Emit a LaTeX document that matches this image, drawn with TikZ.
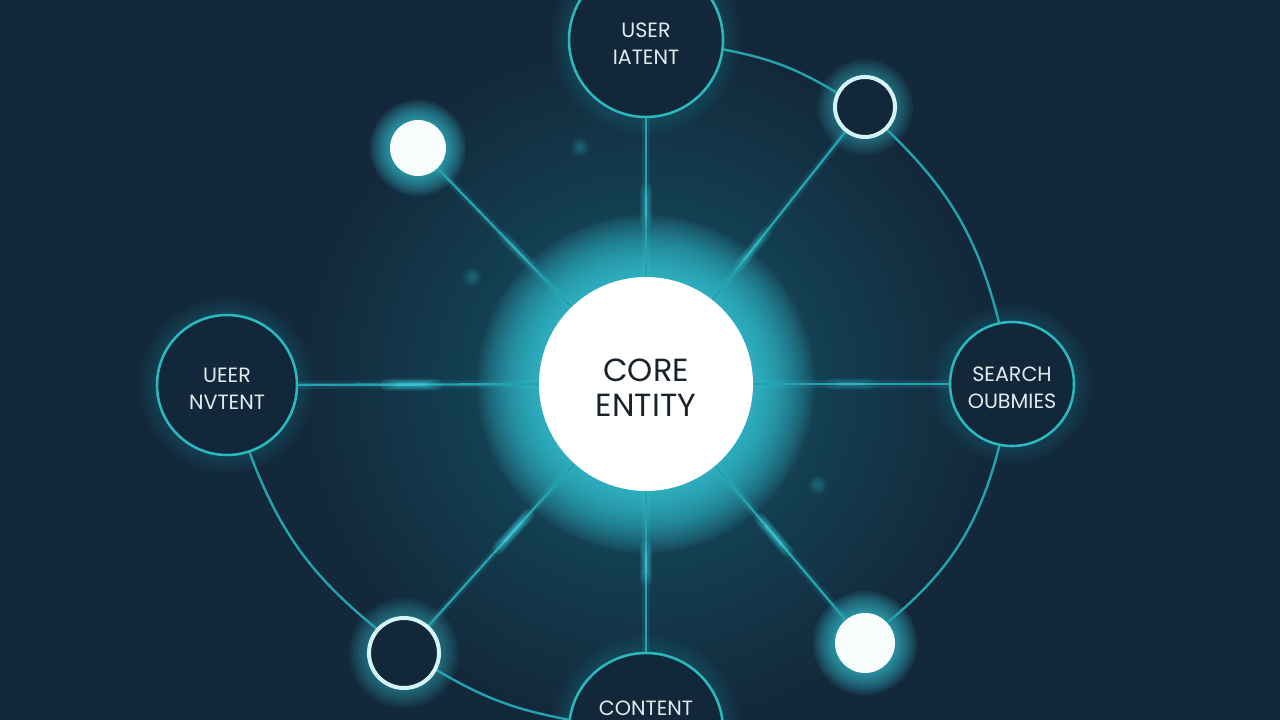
\documentclass[tikz,border=0pt]{standalone}
\usepackage{fontspec}
\setmainfont{Poppins}
\definecolor{bgc}{HTML}{13293B}
\definecolor{bgedge}{HTML}{0D1E2C}
\definecolor{linec}{HTML}{23A3AD}
\definecolor{edgec}{HTML}{2BB8BE}
\definecolor{glowc}{HTML}{3CD6E6}
\definecolor{hotc}{HTML}{7FEAF4}
\definecolor{ringc}{HTML}{D5F4F7}
\definecolor{dotc}{HTML}{F7FCFD}
\definecolor{txtc}{HTML}{E2EAEE}
\definecolor{coretxt}{HTML}{1A222C}
\definecolor{nodefill}{HTML}{12283A}
\pgfdeclareradialshading{bgshade}{\pgfpoint{0bp}{0bp}}{color(0bp)=(bgc); color(25bp)=(bgc); color(71bp)=(bgedge)}
\pgfdeclarelayer{bglayer}
\pgfdeclarelayer{glowlayer}
\pgfdeclarelayer{linelayer}
\pgfsetlayers{bglayer,glowlayer,linelayer,main}
% stacked translucent discs: centre, inner radius, extra radius, count, opacity
\newcommand\glowdisc[5]{\foreach \gi in {1,...,#4}{\fill[glowc, opacity=#5] (#1) circle ({#2+#3*\gi/#4});}}
% glowing spot on a connector: from, to, position, opacity
\newcommand\hotspot[4]{%
  \foreach \hw/\hl in {9/0.10, 7/0.085, 5/0.07, 3.5/0.055}{%
    \pgfmathsetmacro\hsa{#3-\hl}\pgfmathsetmacro\hsb{#3+\hl}%
    \path (#1) -- (#2) coordinate[pos=\hsa] (hsA) coordinate[pos=\hsb] (hsB);
    \draw[glowc, line width=\hw pt, opacity=#4, line cap=round] (hsA) -- (hsB);
  }%
  \pgfmathsetmacro\hsa{#3-0.06}\pgfmathsetmacro\hsb{#3+0.06}%
  \path (#1) -- (#2) coordinate[pos=\hsa] (hsA) coordinate[pos=\hsb] (hsB);
  \draw[hotc, line width=1.8pt, opacity=#4, line cap=round] (hsA) -- (hsB);
}
\begin{document}
\begin{tikzpicture}[x=0.75pt,y=-0.75pt,
  corenode/.style={circle, fill=white, inner sep=0pt, minimum size=160.5pt},
  corelabel/.style={text=coretxt, align=center, inner sep=0pt, font=\fontsize{24}{26}\selectfont},
  outernode/.style={circle, draw=edgec, line width=1.9pt, fill=nodefill, inner sep=0pt},
  lbl/.style={text=txtc, align=center, inner sep=0pt, font=\fontsize{15.5}{20.5}\selectfont},
  dotnode/.style={circle, fill=dotc, inner sep=0pt},
  ringnode/.style={circle, draw=ringc, line width=3pt, fill=nodefill, inner sep=0pt},
  spoke/.style={draw=linec, line width=1.8pt},
  spokeglow/.style={draw=glowc, line width=6pt, opacity=0.10},
  arcline/.style={draw=linec, line width=1.8pt}]
\useasboundingbox (0,0) rectangle (1280,720);
\clip (0,0) rectangle (1280,720);
\begin{pgfonlayer}{bglayer}
\shade[shading=bgshade] (0,0) rectangle (1280,720);
\end{pgfonlayer}

% nodes
\node[corenode] (core) at (646,384) {};
\node[corelabel] (corelbl) at (646,388) {CORE\\ENTITY};
\node[outernode, minimum size=115.5pt] (top) at (646,40) {};
\node[lbl] (toplbl) at (646,44) {USER\\IATENT};
\node[outernode, minimum size=105pt] (left) at (227,385) {};
\node[lbl] (leftlbl) at (227,389) {UEER\\NVTENT};
\node[outernode, minimum size=93pt] (right) at (1012,384) {};
\node[lbl] (rightlbl) at (1012,388) {SEARCH\\OUBMIES};
\node[outernode, minimum size=115.5pt] (bot) at (646,730) {};
\node[lbl, anchor=base] (botlbl) at (646,715) {CONTENT};
\node[dotnode, minimum size=42pt] (tl) at (418,148) {};
\node[ringnode, minimum size=45pt] (tr) at (865,107) {};
\node[ringnode, minimum size=52.5pt] (bl) at (404,653) {};
\node[dotnode, minimum size=45pt] (br) at (865,643) {};

% glows
\begin{pgfonlayer}{glowlayer}
\glowdisc{core.center}{100}{240}{32}{0.009}
\glowdisc{core.center}{104}{65}{24}{0.06}
\glowdisc{tl.center}{26}{22}{10}{0.09}
\glowdisc{br.center}{28}{24}{10}{0.09}
\glowdisc{tr.center}{30}{18}{8}{0.06}
\glowdisc{bl.center}{35}{20}{8}{0.06}
\glowdisc{top.center}{75}{20}{8}{0.02}
\glowdisc{left.center}{68}{20}{8}{0.02}
\glowdisc{right.center}{60}{20}{8}{0.02}
\glowdisc{bot.center}{75}{20}{8}{0.02}
\glowdisc{580,147}{1}{8}{4}{0.07}
\glowdisc{472,277}{1}{8}{4}{0.07}
\glowdisc{818,485}{1}{8}{4}{0.07}
\end{pgfonlayer}

% connectors
\begin{pgfonlayer}{linelayer}
\foreach \n in {top,tr,right,br,bot,bl,left,tl}{
  \draw[spokeglow] (core) -- (\n);
  \draw[spoke] (core) -- (\n);
}
\draw[arcline] (top) to[bend left=10] (tr);
\draw[arcline] (tr) to[bend left=16] (right);
\draw[arcline] (right) to[bend left=18] (br);
\draw[arcline] (left) to[bend right=15] (bl);
\draw[arcline] (bl) to[bend right=10] (bot);
\hotspot{core}{left}{0.53}{0.16}
\hotspot{core}{bl}{0.42}{0.16}
\hotspot{core}{br}{0.45}{0.14}
\hotspot{core}{top}{0.45}{0.09}
\hotspot{core}{bot}{0.45}{0.12}
\hotspot{core}{tr}{0.3}{0.09}
\hotspot{core}{right}{0.5}{0.07}
\hotspot{core}{tl}{0.4}{0.06}
\end{pgfonlayer}
\end{tikzpicture}
\end{document}
